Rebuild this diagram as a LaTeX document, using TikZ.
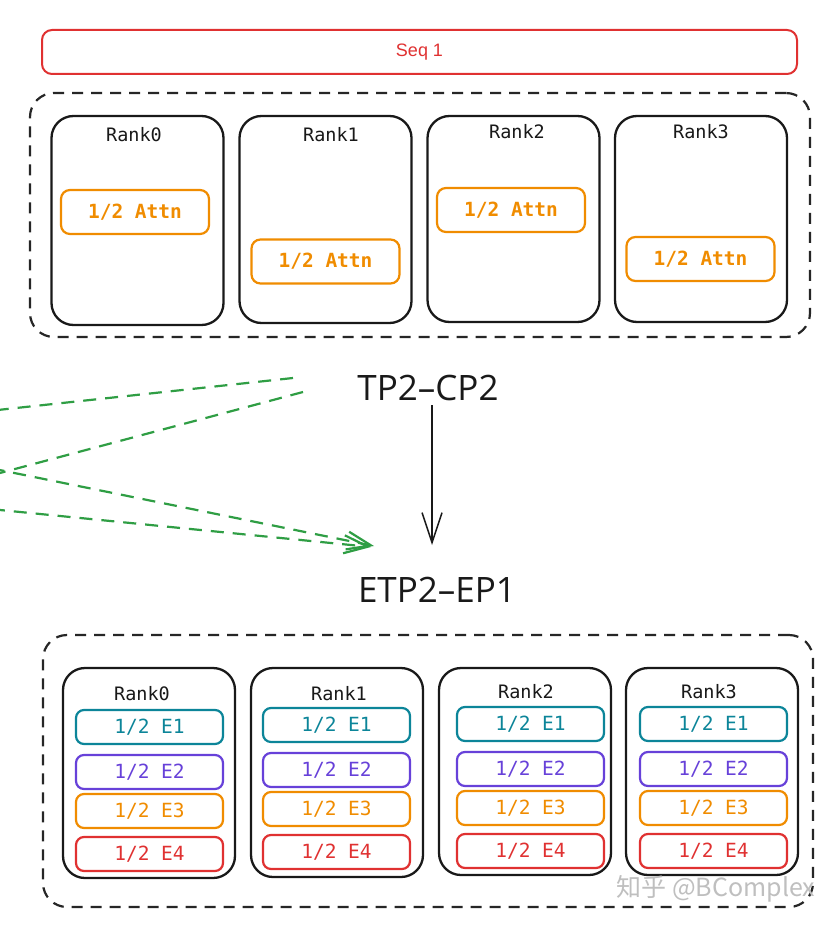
\documentclass[tikz,border=0pt]{standalone}
\usepackage{fontspec}
\usetikzlibrary{arrows.meta}
\newfontfamily\monof{DejaVu Sans Mono}
\newfontfamily\titlef{Open Sans}
\newfontfamily\seqf{Liberation Sans}
\newfontfamily\cjk{Noto Sans CJK SC}
\definecolor{exred}{HTML}{E03131}
\definecolor{exorange}{HTML}{F08C00}
\definecolor{exteal}{HTML}{0C8599}
\definecolor{expurple}{HTML}{6741D9}
\definecolor{exgreen}{HTML}{2F9E44}
\tikzset{
  container/.style={draw=black!85, line width=2.2pt, dash pattern=on 11pt off 8pt, rounded corners=24pt, inner sep=0pt},
  rankbox/.style={draw=black!90, line width=2.3pt, rounded corners=22pt, minimum width=172pt, inner sep=0pt},
  ranklabel/.style={font=\monof\fontsize{18.5}{20}\selectfont, text=black!90, inner sep=0pt},
  attnbox/.style={draw=exorange, line width=2.2pt, rounded corners=9pt, minimum width=148pt, minimum height=44pt, text=exorange, font=\monof\bfseries\fontsize{19.5}{20}\selectfont, inner sep=0pt},
  expbox/.style={draw=#1, line width=2.2pt, rounded corners=8pt, minimum width=147pt, minimum height=34pt, text=#1, font=\monof\fontsize{19.5}{20}\selectfont, inner sep=0pt},
  bigtitle/.style={font=\titlef\fontsize{35}{40}\selectfont, text=black!90, inner sep=0pt},
  gline/.style={draw=exgreen, line width=2.2pt, dash pattern=on 13pt off 9pt},
  garrow/.style={gline, -{Straight Barb[length=24pt,width=18pt,line width=2.2pt]}},
}
\begin{document}
\begin{tikzpicture}[x=1pt,y=-1pt]
\useasboundingbox (0,0) rectangle (837,928);
\fill[white] (0,0) rectangle (837,928);

% Seq bar
\node[draw=exred, line width=2pt, rounded corners=10pt, minimum width=755pt, minimum height=44pt, inner sep=0pt, text=exred, font=\seqf\fontsize{18}{20}\selectfont] (seq) at (419.5,52) {Seq 1};

% top container
\node[container, minimum width=780pt, minimum height=244pt] (topc) at (420,215) {};

\node[rankbox, minimum height=209pt] (tr0) at (137.5,220.5) {};
\node[rankbox, minimum height=207pt] (tr1) at (325.5,219.5) {};
\node[rankbox, minimum height=206pt] (tr2) at (513.5,219) {};
\node[rankbox, minimum height=206pt] (tr3) at (701,219) {};

\node[ranklabel] (tl0) at (134,135) {Rank0};
\node[ranklabel] (tl1) at (331,135) {Rank1};
\node[ranklabel] (tl2) at (517,132) {Rank2};
\node[ranklabel] (tl3) at (701,132) {Rank3};

\node[attnbox] (a0) at (135,212) {1/2 Attn};
\node[attnbox] (a1) at (325.5,261.5) {1/2 Attn};
\node[attnbox] (a2) at (511,210) {1/2 Attn};
\node[attnbox] (a3) at (700.5,259) {1/2 Attn};

% titles and arrow
\node[bigtitle] (tp) at (428,388) {TP2–CP2};
\node[bigtitle] (etp) at (437,590) {ETP2–EP1};
\coordinate (arrs) at (432,405);
\coordinate (arre) at (432,545);
\draw[line width=1.5pt, black!90, -{Straight Barb[length=30pt,width=20pt,line width=1.5pt]}] (arrs) -- (arre);

% green dashed lines
\coordinate (g1s) at (293,378);
\coordinate (g1e) at (-30,413);
\coordinate (g2s) at (303,392);
\coordinate (g2e) at (-30,481);
\coordinate (g3s) at (-30,464);
\coordinate (g4s) at (-30,507);
\coordinate (gt) at (374,546);
\begin{scope}
\clip (0,0) rectangle (837,928);
\draw[gline] (g1s) -- (g1e);
\draw[gline] (g2s) -- (g2e);
\draw[garrow] (g3s) -- (gt);
\draw[garrow] (g4s) -- ([xshift=-3pt,yshift=-1pt]gt);
\end{scope}

% bottom container
\node[container, minimum width=770pt, minimum height=272pt] (botc) at (428,771) {};

\node[rankbox, minimum height=210pt] (br0) at (149,773) {};
\node[rankbox, minimum height=209pt] (br1) at (337,772.5) {};
\node[rankbox, minimum height=207pt] (br2) at (525,771.5) {};
\node[rankbox, minimum height=207pt] (br3) at (712,771.5) {};

\node[ranklabel] (bl0) at (142,694) {Rank0};
\node[ranklabel] (bl1) at (339,694) {Rank1};
\node[ranklabel] (bl2) at (526,692) {Rank2};
\node[ranklabel] (bl3) at (709,692) {Rank3};

\foreach \i/\x/\dy in {0/149.5/2, 1/336.5/0, 2/530.5/-1, 3/713.5/-1}{
  \node[expbox=exteal] (e1r\i) at (\x,725+\dy) {1/2 E1};
  \node[expbox=expurple] (e2r\i) at (\x,770+\dy) {1/2 E2};
  \node[expbox=exorange] (e3r\i) at (\x,809+\dy) {1/2 E3};
  \node[expbox=exred] (e4r\i) at (\x,852+\dy) {1/2 E4};
}

% watermark
\node[text=black!25, font=\cjk\fontsize{25}{28}\selectfont, inner sep=0pt] (wm) at (716,889) {知乎 @BComplex};
\end{tikzpicture}
\end{document}
